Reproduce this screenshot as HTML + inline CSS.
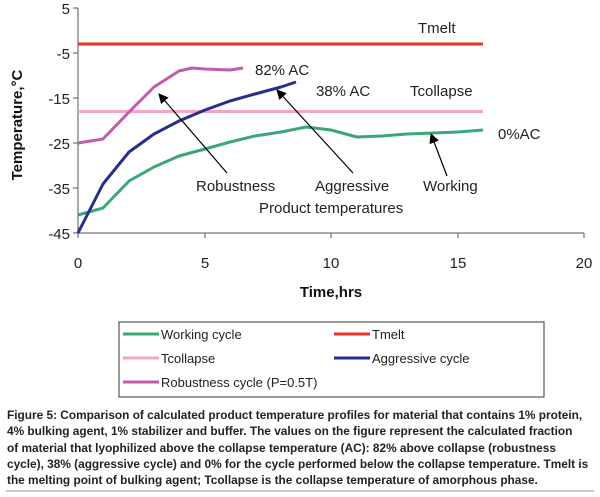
<!DOCTYPE html>
<html><head><style>
body{margin:0;background:#fff;width:600px;height:497px;overflow:hidden;font-family:"Liberation Sans",sans-serif}
.cap{position:absolute;left:7px;top:407px;width:600px;font-size:11.85px;font-weight:bold;line-height:16.3px;color:#222;white-space:nowrap}
</style></head><body>
<svg width="600" height="497" style="position:absolute;left:0;top:0" font-family="Liberation Sans, sans-serif">
<defs><marker id="ah" markerWidth="10" markerHeight="10" refX="9" refY="5" orient="auto" markerUnits="userSpaceOnUse"><path d="M0,0 L10,5 L0,10 z" fill="#000"/></marker></defs>
<g stroke="#555" stroke-width="1" fill="none">
<line x1="78" y1="8" x2="78" y2="233"/><line x1="78" y1="233" x2="584" y2="233"/>
<line x1="73" y1="8" x2="78" y2="8"/><line x1="73" y1="53" x2="78" y2="53"/><line x1="73" y1="98" x2="78" y2="98"/><line x1="73" y1="143" x2="78" y2="143"/><line x1="73" y1="188" x2="78" y2="188"/><line x1="73" y1="233" x2="78" y2="233"/>
<line x1="78" y1="233" x2="78" y2="238"/><line x1="205" y1="233" x2="205" y2="238"/><line x1="331" y1="233" x2="331" y2="238"/><line x1="458" y1="233" x2="458" y2="238"/><line x1="584" y1="233" x2="584" y2="238"/>
</g>
<g font-size="15" fill="#222" text-anchor="end">
<text x="70" y="14">5</text><text x="70" y="59">-5</text><text x="70" y="104">-15</text><text x="70" y="149">-25</text><text x="70" y="194">-35</text><text x="70" y="239">-45</text>
</g>
<g font-size="15" fill="#222" text-anchor="middle">
<text x="78" y="268">0</text><text x="205" y="268">5</text><text x="331" y="268">10</text><text x="458" y="268">15</text><text x="584" y="268">20</text>
</g>
<text transform="translate(22,125) rotate(-90)" font-size="15" font-weight="bold" text-anchor="middle" fill="#111">Temperature,°C</text>
<text x="331" y="297" font-size="15" font-weight="bold" text-anchor="middle" fill="#111">Time,hrs</text>
<g fill="none" stroke-width="3" stroke-linejoin="round">
<line x1="78" y1="44" x2="483" y2="44" stroke="#e8312a"/>
<line x1="78" y1="111.5" x2="483" y2="111.5" stroke="#f3a6c8"/>
<polyline stroke="#3aa876" points="78,215 103,208 129,181 154,167 179,156 205,149 230,142 255,136 281,132 306,127 331,130 357,137 382,136 407,134 433,133 458,132 483,130"/>
<polyline stroke="#262f8a" points="78,233 103,184 129,152 154,134 179,121 205,110 230,101 255,94 281,87 296,82"/>
<polyline stroke="#c25bb0" points="78,143 103,139 129,112 154,87 179,71 192,68 205,69 230,70 243,68"/>
</g>
<g stroke="#000" stroke-width="1.2" marker-end="url(#ah)">
<line x1="227" y1="173" x2="159" y2="94"/>
<line x1="353" y1="173" x2="277" y2="90"/>
<line x1="447" y1="176" x2="431" y2="134"/>
</g>
<g font-size="15" fill="#222">
<text x="418" y="33">Tmelt</text>
<text x="255" y="75">82% AC</text>
<text x="316" y="96">38% AC</text>
<text x="410" y="96">Tcollapse</text>
<text x="498" y="139">0%AC</text>
<text x="196" y="191">Robustness</text>
<text x="315" y="191">Aggressive</text>
<text x="423" y="191">Working</text>
<text x="259" y="213">Product temperatures</text>
</g>
<rect x="119" y="322" width="425" height="75" fill="none" stroke="#333" stroke-width="1"/>
<g stroke-width="3">
<line x1="123" y1="334" x2="159" y2="334" stroke="#3aa876"/>
<line x1="334" y1="334" x2="370" y2="334" stroke="#e8312a"/>
<line x1="123" y1="358" x2="159" y2="358" stroke="#f3a6c8"/>
<line x1="334" y1="358" x2="370" y2="358" stroke="#262f8a"/>
<line x1="123" y1="382" x2="159" y2="382" stroke="#c25bb0"/>
</g>
<g font-size="13" fill="#222">
<text x="161" y="339">Working cycle</text>
<text x="372" y="339">Tmelt</text>
<text x="161" y="363">Tcollapse</text>
<text x="372" y="363">Aggressive cycle</text>
<text x="161" y="387">Robustness cycle (P=0.5T)</text>
</g>
<line x1="6" y1="491" x2="594" y2="491" stroke="#999" stroke-width="1"/>
</svg>
<div class="cap">Figure 5: Comparison of calculated product temperature profiles for material that contains 1% protein,<br>4% bulking agent, 1% stabilizer and buffer. The values on the figure represent the calculated fraction<br>of material that lyophilized above the collapse temperature (AC): 82% above collapse (robustness<br>cycle), 38% (aggressive cycle) and 0% for the cycle performed below the collapse temperature. Tmelt is<br>the melting point of bulking agent; Tcollapse is the collapse temperature of amorphous phase.</div>
</body></html>
